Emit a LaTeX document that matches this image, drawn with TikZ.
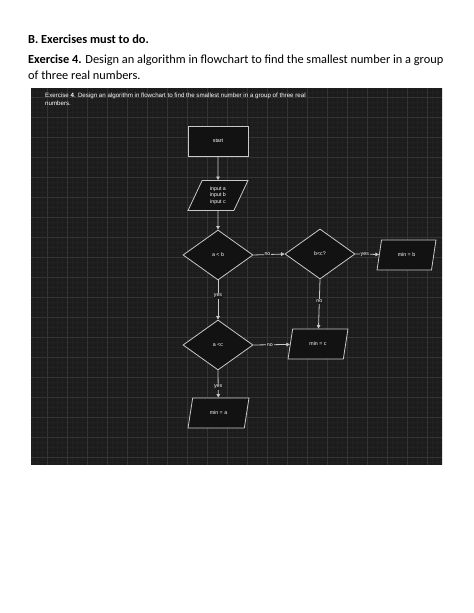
\documentclass[tikz,border=0pt]{standalone}
\usepackage{fontspec}
\setmainfont{Carlito}
\newfontfamily\arialf{Liberation Sans}
\usetikzlibrary{arrows.meta,shapes.geometric}
\definecolor{bgdark}{HTML}{1C1C1C}
\definecolor{gridminor}{HTML}{212121}
\definecolor{gridmajor}{HTML}{343434}
\definecolor{edgecol}{HTML}{C8C8C8}
\definecolor{nodefill}{HTML}{121212}
\begin{document}
\begin{tikzpicture}[x=1bp,y=-1bp,
  every node/.style={inner sep=0pt},
  boxtxt/.style={font=\arialf\fontsize{5.3}{6.3}\selectfont, text=white, align=center},
  procbox/.style={boxtxt, draw=edgecol, fill=nodefill, line width=0.8bp, minimum width=60bp, minimum height=30bp},
  iobox/.style={boxtxt, draw=edgecol, fill=nodefill, line width=0.8bp, trapezium, trapezium left angle=68, trapezium right angle=112, trapezium stretches=true, minimum width=60bp, minimum height=30bp},
  decbox/.style={boxtxt, draw=edgecol, fill=nodefill, line width=0.8bp, diamond, aspect=1.4, minimum width=70bp, minimum height=50bp},
  flow/.style={draw=edgecol, line width=0.8bp, -{Triangle[width=3.5bp,length=3.5bp]}},
  lbl/.style={font=\arialf\fontsize{5.3}{6.3}\selectfont, text=white, fill=bgdark, inner sep=1bp}
]
\useasboundingbox (0,0) rectangle (474,613);
\fill[white] (0,0) rectangle (474,613);
% header text
\node[anchor=base west, font=\fontsize{12.4}{15}\selectfont\bfseries] (hB) at (28,44) {B. Exercises must to do.};
\node[anchor=base west, font=\fontsize{12.4}{15}\selectfont] (hE1) at (28,64) {\textbf{Exercise 4.} Design an algorithm in flowchart to find the smallest number in a group};
\node[anchor=base west, font=\fontsize{12.4}{15}\selectfont] (hE2) at (28,80) {of three real numbers.};
% screenshot background
\fill[bgdark] (31,88) rectangle (442,465);
\begin{scope}
\clip (31,88) rectangle (442,465);
\foreach \gx in {32,37,...,442} \draw[gridminor, line width=0.4bp] (\gx,88) -- (\gx,465);
\foreach \gy in {92,97,...,465} \draw[gridminor, line width=0.4bp] (31,\gy) -- (442,\gy);
\foreach \gx in {47,67,...,442} \draw[gridmajor, line width=0.5bp] (\gx,88) -- (\gx,465);
\foreach \gy in {97,117,...,465} \draw[gridmajor, line width=0.5bp] (31,\gy) -- (442,\gy);
\end{scope}
\node[anchor=north west, align=left, font=\arialf\fontsize{6.2}{7.4}\selectfont, text=white] (title) at (45,93) {Exercise \textbf{4}. Design an algorithm in flowchart to find the smallest number in a group of three real\\numbers.};
% nodes
\node[procbox] (start) at (218,141) {start};
\node[iobox] (input) at (218,195.5) {input a\\input b\\input c};
\node[decbox] (d1) at (218,255) {a {\textless} b};
\node[decbox] (d2) at (320,254) {b{\textless}c?};
\node[iobox, minimum width=59bp] (minb) at (406.5,255) {min = b};
\node[decbox] (d3) at (218,345) {a {\textless}c};
\node[iobox, minimum width=60bp] (minc) at (318,344) {min = c};
\node[iobox, minimum width=61bp] (mina) at (218.5,413) {min = a};
% connectors
\draw[flow] (start) -- (input);
\draw[flow] (input) -- (d1);
\draw[flow] (d1.east) -- node[lbl, pos=0.45] {no} (d2.west);
\draw[flow] (d2.east) -- node[lbl, pos=0.4] {yes} (minb);
\draw[flow] (d1.south) -- node[lbl, pos=0.4] {yes} (d3.north);
\draw[flow] (d2.south) -- node[lbl, pos=0.45] {no} (minc);
\draw[flow] (d3.east) -- node[lbl, pos=0.45] {no} (minc);
\draw[flow] (d3.south) -- node[lbl, pos=0.6] {yes} (mina);
\end{tikzpicture}
\end{document}
